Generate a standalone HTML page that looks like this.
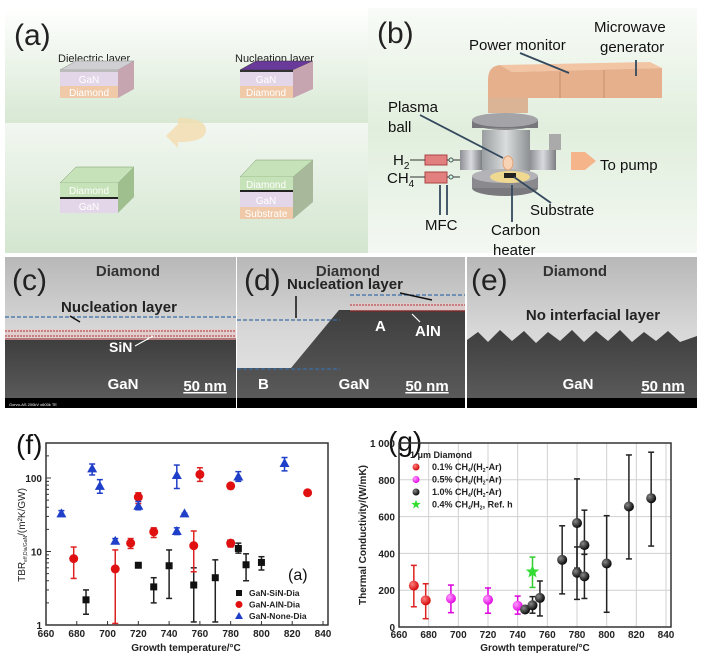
<!DOCTYPE html>
<html><head><meta charset="utf-8"><style>
html,body{margin:0;padding:0;background:#fff;width:702px;height:656px;overflow:hidden}
svg{display:block;font-family:"Liberation Sans",sans-serif}
</style></head><body>
<svg id="fig" width="702" height="656" viewBox="0 0 702 656">
<defs>
<linearGradient id="bgA1" x1="0" y1="0" x2="0" y2="1"><stop offset="0" stop-color="#ffffff"/><stop offset="1" stop-color="#d7e8d3"/></linearGradient>
<linearGradient id="bgA2" x1="0" y1="0" x2="0" y2="1"><stop offset="0" stop-color="#f2f7f1"/><stop offset="1" stop-color="#d3e6cf"/></linearGradient>
<linearGradient id="bgB" x1="0" y1="0" x2="0" y2="1"><stop offset="0" stop-color="#f8fbf7"/><stop offset="0.5" stop-color="#e1eedd"/><stop offset="1" stop-color="#f3f8f2"/></linearGradient>
<linearGradient id="metal" x1="0" y1="0" x2="1" y2="0"><stop offset="0" stop-color="#8d8f94"/><stop offset="0.5" stop-color="#d9dade"/><stop offset="1" stop-color="#7d7f84"/></linearGradient>
<linearGradient id="tem" x1="0" y1="0" x2="0" y2="1"><stop offset="0" stop-color="#b8b8b8"/><stop offset="0.5" stop-color="#d8d8d8"/><stop offset="1" stop-color="#e6e6e6"/></linearGradient>
<linearGradient id="gan" x1="0" y1="0" x2="0" y2="1"><stop offset="0" stop-color="#3e3e3e"/><stop offset="1" stop-color="#5a5a5a"/></linearGradient>
<radialGradient id="sRed" cx="0.35" cy="0.35" r="0.7"><stop offset="0" stop-color="#ff8080"/><stop offset="1" stop-color="#d00000"/></radialGradient>
<radialGradient id="sMag" cx="0.35" cy="0.35" r="0.7"><stop offset="0" stop-color="#ff9cff"/><stop offset="1" stop-color="#e000e0"/></radialGradient>
<radialGradient id="sBlk" cx="0.35" cy="0.35" r="0.7"><stop offset="0" stop-color="#888"/><stop offset="1" stop-color="#000"/></radialGradient>
</defs>

<!-- Panel (a) -->
<g>
<rect x="5" y="8" width="363" height="115" fill="url(#bgA1)"/>
<rect x="5" y="123" width="363" height="130" fill="url(#bgA2)"/>
<text x="14" y="45" font-size="30" fill="#222">(a)</text>
<text x="58" y="62" font-size="11" fill="#222">Dielectric layer</text>
<text x="235" y="62" font-size="11" fill="#222">Nucleation layer</text>
<!-- block 1 -->
<g>
<polygon points="60,70 76,61 134,61 118,70" fill="#d0d0d4" stroke="#888" stroke-width="0.5"/>
<rect x="60" y="70" width="58" height="2" fill="#bbb"/>
<rect x="60" y="72" width="58" height="14" fill="#e2d6e8"/>
<rect x="60" y="86" width="58" height="12" fill="#f0c9a8"/>
<polygon points="118,70 134,61 134,89 118,98" fill="#c6a4b0"/>
<text x="89" y="83" font-size="10" fill="#fff" text-anchor="middle">GaN</text>
<text x="89" y="96" font-size="10" fill="#fff" text-anchor="middle">Diamond</text>
</g>
<g>
<polygon points="240,70 256,61 313,61 293,70" fill="#6a3a9a" stroke="#333" stroke-width="0.5"/>
<rect x="240" y="70" width="53" height="2" fill="#333"/>
<rect x="240" y="72" width="53" height="14" fill="#e2d6e8"/>
<rect x="240" y="86" width="53" height="12" fill="#f0c9a8"/>
<polygon points="293,70 313,61 313,89 293,98" fill="#c6a4b0"/>
<text x="266" y="83" font-size="10" fill="#fff" text-anchor="middle">GaN</text>
<text x="266" y="96" font-size="10" fill="#fff" text-anchor="middle">Diamond</text>
</g>
<path d="M178,118 Q206,118 206,130 Q206,142 178,142 L178,148 L166,136 L178,124 Z" fill="#f3dcae" opacity="0.8"/>
<g>
<polygon points="60,183 76,167 134,167 118,183" fill="#c6e2b8" stroke="#7a9a6a" stroke-width="0.5"/>
<rect x="60" y="183" width="58" height="14" fill="#c6e2b8"/>
<rect x="60" y="197" width="58" height="2" fill="#222"/>
<rect x="60" y="199" width="58" height="14" fill="#e2d6e8"/>
<polygon points="118,183 134,167 134,197 118,213" fill="#9fbf8f"/>
<text x="89" y="194" font-size="10" fill="#fff" text-anchor="middle">Diamond</text>
<text x="89" y="210" font-size="10" fill="#fff" text-anchor="middle">GaN</text>
</g>
<g>
<polygon points="240,177 256,160 313,160 293,177" fill="#c6e2b8" stroke="#7a9a6a" stroke-width="0.5"/>
<rect x="240" y="177" width="53" height="13" fill="#c6e2b8"/>
<rect x="240" y="190" width="53" height="2" fill="#222"/>
<rect x="240" y="192" width="53" height="15" fill="#e2d6e8"/>
<rect x="240" y="207" width="53" height="12" fill="#f0c9a8"/>
<polygon points="293,177 313,160 313,202 293,219" fill="#a8b89a"/>
<text x="266" y="188" font-size="10" fill="#fff" text-anchor="middle">Diamond</text>
<text x="266" y="204" font-size="10" fill="#fff" text-anchor="middle">GaN</text>
<text x="266" y="217" font-size="10" fill="#fff" text-anchor="middle">Substrate</text>
</g>
</g>

<!-- Panel (b) -->
<g>
<rect x="368" y="8" width="329" height="245" fill="url(#bgB)"/>
<text x="377" y="43" font-size="30" fill="#222">(b)</text>
<!-- waveguide -->
<polygon points="500,65 650,62 662,68 512,72" fill="#f2c6a4"/>
<path d="M500,65 Q488,66 488,80 L488,98 L662,98 L662,68 L512,72 Z" fill="#e6b08c"/>
<rect x="488" y="98" width="40" height="15" fill="#d8a987" opacity="0.85"/>
<line x1="560" y1="72" x2="560" y2="98" stroke="#c8906c"/><line x1="604" y1="70" x2="604" y2="98" stroke="#c8906c"/>
<!-- chamber -->
<rect x="482" y="130" width="48" height="45" fill="url(#metal)" opacity="0.85"/>
<ellipse cx="505" cy="122" rx="33" ry="8" fill="#8c8c90"/><rect x="472" y="120" width="66" height="8" fill="#77777b"/><ellipse cx="505" cy="120" rx="33" ry="7" fill="#a4a4a8"/>
<ellipse cx="505" cy="188" rx="33" ry="8" fill="#7a7a7e"/><rect x="472" y="176" width="66" height="12" fill="#8a8a8e"/><ellipse cx="505" cy="176" rx="33" ry="7" fill="#b4b4b8"/>
<rect x="460" y="150" width="22" height="20" fill="url(#metal)"/>
<rect x="530" y="150" width="26" height="20" fill="url(#metal)"/>
<rect x="549" y="134" width="12" height="16" fill="#aaa"/>
<polygon points="571,152 585,152 596,161 585,170 571,170" fill="#f6b48a"/>
<ellipse cx="508" cy="163" rx="5" ry="7" fill="#f7d2b4" stroke="#e0a37a"/>
<ellipse cx="510" cy="177" rx="20" ry="6" fill="#efd890"/>
<rect x="504" y="173" width="12" height="5" fill="#222"/>
<!-- MFC -->
<rect x="425" y="155" width="22" height="10" fill="#e28080" stroke="#a44"/>
<rect x="425" y="172" width="22" height="11" fill="#e28080" stroke="#a44"/>
<line x1="410" y1="160" x2="425" y2="160" stroke="#333"/><line x1="410" y1="177" x2="425" y2="177" stroke="#333"/>
<line x1="447" y1="160" x2="460" y2="160" stroke="#333"/><line x1="447" y1="177" x2="460" y2="177" stroke="#333"/>
<circle cx="451" cy="160" r="2" fill="#cfe" stroke="#555"/><circle cx="451" cy="177" r="2" fill="#cfe" stroke="#555"/>
<g stroke="#34495e" stroke-width="1.8" fill="#34495e">
<line x1="420" y1="115" x2="503" y2="158"/>
<line x1="520" y1="53" x2="569" y2="73"/>
<line x1="636" y1="60" x2="636" y2="76"/>
<line x1="551" y1="203" x2="514" y2="177"/>
<line x1="512" y1="222" x2="512" y2="185"/>
<line x1="440" y1="215" x2="440" y2="185"/>
<line x1="447" y1="215" x2="447" y2="185"/>
</g>
<g font-size="15" fill="#111">
<text x="469" y="50">Power monitor</text>
<text x="594" y="32">Microwave</text>
<text x="600" y="52">generator</text>
<text x="388" y="112">Plasma</text>
<text x="388" y="132">ball</text>
<text x="393" y="165">H<tspan font-size="10" dy="4">2</tspan></text>
<text x="387" y="183">CH<tspan font-size="10" dy="4">4</tspan></text>
<text x="600" y="170">To pump</text>
<text x="530" y="215">Substrate</text>
<text x="425" y="230">MFC</text>
<text x="491" y="235">Carbon</text>
<text x="493" y="255">heater</text>
</g>
</g>

<!-- TEM (c) -->
<g>
<rect x="5" y="257" width="231" height="151" fill="url(#tem)"/>
<rect x="5" y="340" width="231" height="58" fill="url(#gan)"/>
<rect x="5" y="329" width="231" height="9" fill="#e8c8c8" opacity="0.6"/>
<line x1="5" y1="317" x2="236" y2="317" stroke="#3a6ea8" stroke-dasharray="4,2" stroke-width="1.2"/>
<line x1="5" y1="331" x2="236" y2="331" stroke="#b03030" stroke-dasharray="2,1"/>
<line x1="5" y1="336" x2="236" y2="336" stroke="#b03030" stroke-dasharray="2,1"/>
<line x1="5" y1="339" x2="236" y2="339" stroke="#902020"/>
<rect x="5" y="398" width="231" height="10" fill="#000"/>
<text x="12" y="290" font-size="30" fill="#222">(c)</text>
<text x="128" y="276" font-size="15" font-weight="bold" fill="#333" text-anchor="middle">Diamond</text>
<text x="119" y="312" font-size="15" font-weight="bold" fill="#222" text-anchor="middle">Nucleation layer</text>
<line x1="70" y1="316" x2="80" y2="322" stroke="#111" stroke-width="1.5"/>
<text x="109" y="352" font-size="14" font-weight="bold" fill="#fff">SiN</text>
<line x1="135" y1="346" x2="153" y2="336" stroke="#fff" stroke-width="1.2"/>
<text x="123" y="389" font-size="15" font-weight="bold" fill="#fff" text-anchor="middle">GaN</text>
<text x="205" y="391" font-size="15" font-weight="bold" fill="#fff" text-anchor="middle" text-decoration="underline">50 nm</text>
<text x="9" y="406" font-size="4" fill="#fff">Gorvo-AS 200kV x600k TE</text>
</g>
<!-- TEM (d) -->
<g>
<rect x="237" y="257" width="228" height="151" fill="url(#tem)"/>
<polygon points="237,368 291,368 339,310 465,310 465,398 237,398" fill="url(#gan)"/>
<rect x="350" y="303" width="115" height="8" fill="#e8c8c8" opacity="0.6"/>
<line x1="237" y1="320" x2="340" y2="320" stroke="#3a6ea8" stroke-dasharray="4,2" stroke-width="1.2"/>
<line x1="237" y1="369" x2="340" y2="369" stroke="#3a6ea8" stroke-dasharray="4,2" stroke-width="1.2"/>
<line x1="350" y1="295" x2="465" y2="295" stroke="#3a6ea8" stroke-dasharray="4,2" stroke-width="1.2"/>
<line x1="350" y1="305" x2="465" y2="305" stroke="#b03030" stroke-dasharray="2,1"/>
<line x1="350" y1="311" x2="465" y2="311" stroke="#902020"/>
<rect x="237" y="398" width="228" height="10" fill="#000"/>
<text x="244" y="290" font-size="30" fill="#222">(d)</text>
<text x="348" y="276" font-size="15" font-weight="bold" fill="#333" text-anchor="middle">Diamond</text>
<text x="345" y="289" font-size="15" font-weight="bold" fill="#222" text-anchor="middle">Nucleation layer</text>
<line x1="296" y1="296" x2="296" y2="318" stroke="#111" stroke-width="1.5"/>
<line x1="400" y1="293" x2="432" y2="300" stroke="#111" stroke-width="1.5"/>
<text x="375" y="331" font-size="15" font-weight="bold" fill="#fff">A</text>
<text x="415" y="336" font-size="15" font-weight="bold" fill="#fff">AlN</text>
<line x1="420" y1="322" x2="412" y2="314" stroke="#fff" stroke-width="1.2"/>
<text x="258" y="389" font-size="15" font-weight="bold" fill="#fff">B</text>
<text x="354" y="389" font-size="15" font-weight="bold" fill="#fff" text-anchor="middle">GaN</text>
<text x="427" y="391" font-size="15" font-weight="bold" fill="#fff" text-anchor="middle" text-decoration="underline">50 nm</text>
</g>
<!-- TEM (e) -->
<g>
<rect x="467" y="257" width="230" height="151" fill="url(#tem)"/>
<polygon points="467,340 478,332 488,342 500,330 512,341 524,331 536,343 548,332 560,341 572,330 584,342 596,331 608,341 620,330 632,342 644,332 656,341 668,331 680,342 697,336 697,398 467,398" fill="url(#gan)"/>
<rect x="467" y="398" width="230" height="10" fill="#000"/>
<text x="471" y="290" font-size="30" fill="#222">(e)</text>
<text x="575" y="276" font-size="15" font-weight="bold" fill="#333" text-anchor="middle">Diamond</text>
<text x="593" y="320" font-size="15" font-weight="bold" fill="#222" text-anchor="middle">No interfacial layer</text>
<text x="578" y="389" font-size="15" font-weight="bold" fill="#fff" text-anchor="middle">GaN</text>
<text x="663" y="391" font-size="15" font-weight="bold" fill="#fff" text-anchor="middle" text-decoration="underline">50 nm</text>
</g>

<!-- Chart (f) -->
<g id="chartF">
<text x="16" y="454" font-size="28" fill="#111">(f)</text>
<rect x="46" y="443" width="282" height="182" fill="none" stroke="#333" stroke-width="1.5"/>
<text transform="translate(25,535) rotate(-90)" font-size="10" fill="#222" text-anchor="middle">TBR<tspan font-size="5" dy="2">eff,Dia/GaN</tspan><tspan dy="-2">/(m²K/GW)</tspan></text>
<text x="186" y="651" font-size="10" font-weight="bold" fill="#222" text-anchor="middle">Growth temperature/°C</text>
<text x="288" y="580" font-size="16" fill="#111">(a)</text>
</g>
<!-- Chart (g) -->
<g id="chartG">
<text x="388" y="451" font-size="28" fill="#111">(g)</text>
<text transform="translate(366,535) rotate(-90)" font-size="10" font-weight="bold" fill="#222" text-anchor="middle">Thermal Conductivity/(W/mK)</text>
<text x="535" y="651" font-size="10" font-weight="bold" fill="#222" text-anchor="middle">Growth temperature/°C</text>
</g>
</svg>
<script>
// ---- chart (f) data ----
var fTicksX = [660,680,700,720,740,760,780,800,820,840];
var fTicksY = [1,10,100];
var sinT = [686,720,730,740,756,770,780,785,790,800];
var sinV = [2.2,6.5,3.3,6.4,3.5,4.4,13,11,6.6,7.1];
var sinLo = [1.4,6.5,2.0,2.3,1.1,1.1,13,9.5,4.0,5.6];
var sinHi = [3.0,6.5,4.4,10.5,6.0,7.7,13,13,9.3,8.5];
var alnT = [678,705,715,720,730,756,760,780,780,830];
var alnV = [8,5.8,13,55,18.5,12,112,13,78,63];
var alnLo = [4.3,1.05,11,45,15.5,5.3,90,11.5,78,63];
var alnHi = [11.5,10.5,15,63,21,19,138,14,78,63];
var nonT = [670,690,695,705,720,745,745,750,785,815];
var nonV = [33,135,78,14,42,110,19,33,105,160];
var nonLo = [30,110,62,13,37,72,17,33,90,125];
var nonHi = [36,155,95,15,48,150,21,33,122,190];
var fLegend = ["GaN-SiN-Dia","GaN-AlN-Dia","GaN-None-Dia"];
// ---- chart (g) data ----
var gTicksX = [660,680,700,720,740,760,780,800,820,840];
var gTicksY = [0,200,400,600,800,1000];
var gTickLabels = ["0","200","400","600","800","1 000"];
var redT = [670,678];
var redV = [225,145];
var redLo = [110,45];
var redHi = [335,235];
var magT = [695,720,740];
var magV = [155,148,115];
var magLo = [78,75,70];
var magHi = [228,212,168];
var blkT = [745,750,755,770,780,780,785,785,800,815,830];
var blkV = [95,118,158,365,565,295,445,275,345,655,700];
var blkLo = [95,75,60,180,320,150,395,155,80,370,440];
var blkHi = [95,165,250,550,805,435,635,395,605,935,950];
var starT = [750];
var starV = [300];
var starLo = [215];
var starHi = [380];

var NS = "http://www.w3.org/2000/svg";
function mk(parent, tag, attrs){var e=document.createElementNS(NS,tag);for(var k in attrs)e.setAttribute(k,attrs[k]);parent.appendChild(e);return e;}

var fx = function(v){return 46 + (v-660)/180*277;};
var fy = function(v){return 625 - 73.5*Math.log10(v);};
var gx = function(v){return 399 + (v-660)/180*267;};
var gy = function(v){return 627 - v*0.184;};

var F = document.getElementById("chartF");
var G = document.getElementById("chartG");

// f axes
fTicksX.forEach(function(t){
  var x=fx(t);
  var tk=mk(F,"line",{x1:x,y1:625,x2:x,y2:621,stroke:"#333"});
  
  
  var lb=mk(F,"text",{x:x,y:637,"font-size":10,"font-weight":"bold",fill:"#222","text-anchor":"middle"});
  lb.textContent=t;
  
  
});
fTicksY.forEach(function(t){
  var y=fy(t);
  var tk=mk(F,"line",{x1:46,y1:y,x2:51,y2:y,stroke:"#333"});
  
  
  var lb=mk(F,"text",{x:42,y:y+4,"font-size":10,"font-weight":"bold",fill:"#222","text-anchor":"end"});
  lb.textContent=t;
  
  
  for(var m=2;m<10;m++){var v=t*m;if(fy(v)<443)break;mk(F,"line",{x1:46,y1:fy(v),x2:49,y2:fy(v),stroke:"#333"});}
});
function errF(g,x,lo,hi,col){
  mk(g,"line",{x1:x,y1:fy(lo),x2:x,y2:fy(hi),stroke:col,"stroke-width":1.5});
  mk(g,"line",{x1:x-3,y1:fy(lo),x2:x+3,y2:fy(lo),stroke:col,"stroke-width":1.5});
  mk(g,"line",{x1:x-3,y1:fy(hi),x2:x+3,y2:fy(hi),stroke:col,"stroke-width":1.5});
}
sinT.forEach(function(t,i){
  var x=fx(t),y=fy(sinV[i]);
  errF(F,x,sinLo[i],sinHi[i],"#222");
  var m=mk(F,"rect",{x:x-3.5,y:y-3.5,width:7,height:7,fill:"#111"});
  
  
});
alnT.forEach(function(t,i){
  var x=fx(t),y=fy(alnV[i]);
  errF(F,x,alnLo[i],alnHi[i],"#d22");
  var m=mk(F,"circle",{cx:x,cy:y,r:4.5,fill:"#e01010"});
  
  
});
nonT.forEach(function(t,i){
  var x=fx(t),y=fy(nonV[i]);
  errF(F,x,nonLo[i],nonHi[i],"#1f3fc8");
  var m=mk(F,"polygon",{points:(x)+","+(y-5)+" "+(x+5)+","+(y+4)+" "+(x-5)+","+(y+4),fill:"#1f3fc8"});
  
  
});
// f legend
fLegend.forEach(function(name,i){
  var y=596+i*11.5;
  var mkr;
  if(i==0) mkr=mk(F,"rect",{x:236,y:y-6,width:6,height:6,fill:"#111"});
  else if(i==1) mkr=mk(F,"circle",{cx:239,cy:y-3,r:3.5,fill:"#e01010"});
  else mkr=mk(F,"polygon",{points:"239,"+(y-7)+" 243,"+(y)+" 235,"+(y),fill:"#1f3fc8"});
  
  
  var tx=mk(F,"text",{x:249,y:y,"font-size":8.5,"font-weight":"bold",fill:"#222"});
  tx.textContent=name;
  
  
});

// g axes and grid
gTicksY.forEach(function(t,i){
  var y=gy(t);
  var gl=mk(G,"line",{x1:399,y1:y,x2:671,y2:y,stroke:"#d0d0d0"});
  
  
  var lb=mk(G,"text",{x:395,y:y+4,"font-size":10,"font-weight":"bold",fill:"#222","text-anchor":"end"});
  lb.textContent=gTickLabels[i];
  
  
});
gTicksX.forEach(function(t){
  var x=gx(t);
  var gl=mk(G,"line",{x1:x,y1:443,x2:x,y2:627,stroke:"#d0d0d0"});
  
  
  var lb=mk(G,"text",{x:x,y:638,"font-size":10,"font-weight":"bold",fill:"#222","text-anchor":"middle"});
  lb.textContent=t;
  
  
});
var fr=mk(G,"rect",{x:399,y:443,width:272,height:184,fill:"none",stroke:"#333","stroke-width":1.5});


function errG(x,lo,hi,col){
  mk(G,"line",{x1:x,y1:gy(lo),x2:x,y2:gy(hi),stroke:col,"stroke-width":1.5});
  mk(G,"line",{x1:x-3,y1:gy(lo),x2:x+3,y2:gy(lo),stroke:col,"stroke-width":1.5});
  mk(G,"line",{x1:x-3,y1:gy(hi),x2:x+3,y2:gy(hi),stroke:col,"stroke-width":1.5});
}
function ballSeries(T,V,Lo,Hi,col,grad,name){
  T.forEach(function(t,i){
    var x=gx(t);
    errG(x,Lo[i],Hi[i],col);
    var c=mk(G,"circle",{cx:x,cy:gy(V[i]),r:5,fill:"url(#"+grad+")"});
    
    
  });
}
ballSeries(redT,redV,redLo,redHi,"#d22","sRed","point-0-1-percent");
ballSeries(magT,magV,magLo,magHi,"#d0d","sMag","point-0-5-percent");
ballSeries(blkT,blkV,blkLo,blkHi,"#222","sBlk","point-1-0-percent");
function starPts(cx,cy,R,r){var p=[];for(var k=0;k<10;k++){var a=-Math.PI/2+k*Math.PI/5;var rr=k%2?r:R;p.push((cx+rr*Math.cos(a)).toFixed(1)+","+(cy+rr*Math.sin(a)).toFixed(1));}return p.join(" ");}
starT.forEach(function(t,i){
  var x=gx(t);
  errG(x,starLo[i],starHi[i],"#3c3");
  var s=mk(G,"polygon",{points:starPts(x,gy(starV[i]),7,3),fill:"#33dd33"});
  
  
});
// g legend
var lt=mk(G,"text",{x:410,y:458,"font-size":9,"font-weight":"bold",fill:"#222"});
lt.textContent="1 μm Diamond";


var legG=[["sRed","0.1% CH","4","/(H","2","-Ar)"],["sMag","0.5% CH","4","/(H","2","-Ar)"],["sBlk","1.0% CH","4","/(H","2","-Ar)"],["star","0.4% CH","4","/H","2",", Ref. h"]];
legG.forEach(function(e,i){
  var y=470+i*12.5;
  var m;
  if(e[0]=="star") m=mk(G,"polygon",{points:starPts(416,y-3,5,2),fill:"#33dd33"});
  else m=mk(G,"circle",{cx:416,cy:y-3,r:3.5,fill:"url(#"+e[0]+")"});
  
  
  var tx=mk(G,"text",{x:432,y:y,"font-size":9,"font-weight":"bold",fill:"#222"});
  
  
  var s1=mk(tx,"tspan",{});s1.textContent=e[1];
  var s2=mk(tx,"tspan",{dy:2,"font-size":5});s2.textContent=e[2];
  var s3=mk(tx,"tspan",{dy:-2});s3.textContent=e[3];
  var s4=mk(tx,"tspan",{dy:2,"font-size":5});s4.textContent=e[4];
  var s5=mk(tx,"tspan",{dy:-2});s5.textContent=e[5];
});
</script>
</body></html>
